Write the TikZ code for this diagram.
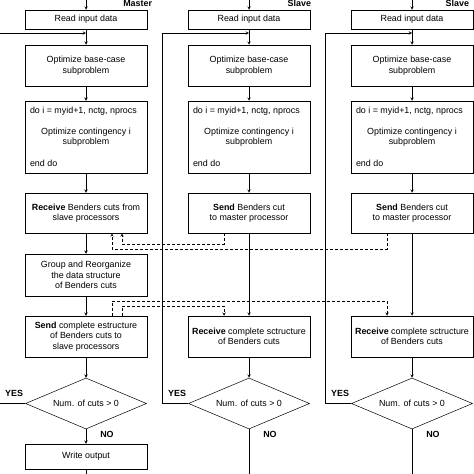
\documentclass[tikz,border=0pt]{standalone}
\usepackage{fontspec}
\setmainfont{Liberation Sans}
\usetikzlibrary{shapes.geometric,arrows}
\newcommand{\boxfont}{\fontsize{8.9}{10.4}\selectfont}

\begin{document}
\begin{tikzpicture}[x=1pt,y=-1pt,>=stealth,line width=0.5pt,
  box/.style={draw,text centered,align=center,minimum width=122pt,inner sep=2pt,font=\boxfont},
  test/.style={draw,diamond,aspect=2.4,minimum width=121pt,minimum height=51pt,inner sep=0pt,font=\boxfont},
  lbl/.style={font=\boxfont\bfseries,inner sep=0pt},
  txt/.style={font=\boxfont,inner sep=0pt},
  ret/.style={dash pattern=on 3pt off 2pt,->}]
\useasboundingbox (0,0) rectangle (474,474);

    % master
    \node[box,minimum height=19pt] (m1) at (86,19.5) {Read input data};
    \node[box,minimum height=41pt] (m2) at (86,65.5) {Optimize base-case\\subproblem};
    \node[box,minimum height=72pt] (m3) at (86,137) {};
    \node[box,minimum height=40pt] (m4) at (86,213) {\textbf{Receive} Benders cuts from\\slave processors};
    \node[box,minimum height=42pt] (m5) at (86,275) {Group and Reorganize\\the data structure\\of Benders cuts};
    \node[box,minimum height=41pt] (m6) at (86,336.5) {\textbf{Send} complete estructure\\of Benders cuts to\\slave processors};
    \node[test] (m7) at (86,403.5) {Num. of cuts > 0};
    \node[box,minimum height=25pt] (m8) at (86,456.5) {Write output};
    \node[txt,anchor=west] (m3a) at ([xshift=5pt,yshift=-10pt]m3.north west) {do i = myid+1, nctg, nprocs};
    \node[txt,align=center] (m3b) at (m3) {Optimize contingency i\\subproblem};
    \node[txt,anchor=west] (m3c) at ([xshift=5pt,yshift=10pt]m3.south west) {end do};
    \node[lbl,anchor=east] (mt) at ([xshift=5pt,yshift=6pt]m1.north east) {Master};
    \node[lbl,anchor=east] (my) at ([xshift=-2pt,yshift=10pt]m7.west) {YES};
    \node[lbl,anchor=west] (mn) at ([xshift=14pt,yshift=-5pt]m7.south) {NO};
    \coordinate (m0) at (86,-4);
    \coordinate (mj) at (86,33);
    \coordinate (m9) at (86,480);

    % first slave
    \node[box,minimum height=19pt] (s1) at (249,19.5) {Read input data};
    \node[box,minimum height=41pt] (s2) at (249,65.5) {Optimize base-case\\subproblem};
    \node[box,minimum height=72pt] (s3) at (249,137) {};
    \node[box,minimum height=40pt] (s4) at (249,213) {\textbf{Send} Benders cut\\to master processor};
    \node[box,minimum height=41pt] (s5) at (249,336.5) {\textbf{Receive} complete sctructure\\of Benders cuts};
    \node[test] (s6) at (249,403.5) {Num. of cuts > 0};
    \node[txt,anchor=west] (s3a) at ([xshift=5pt,yshift=-10pt]s3.north west) {do i = myid+1, nctg, nprocs};
    \node[txt,align=center] (s3b) at (s3) {Optimize contingency i\\subproblem};
    \node[txt,anchor=west] (s3c) at ([xshift=5pt,yshift=10pt]s3.south west) {end do};
    \node[lbl,anchor=east] (st) at ([xshift=1pt,yshift=6pt]s1.north east) {Slave};
    \node[lbl,anchor=east] (sy) at ([xshift=-2pt,yshift=10pt]s6.west) {YES};
    \node[lbl,anchor=west] (sn) at ([xshift=14pt,yshift=-5pt]s6.south) {NO};
    \coordinate (s0) at (249,-4);
    \coordinate (sj) at (249,33);
    \coordinate (s7) at (249,480);

    % second slave
    \node[box,minimum height=19pt] (t1) at (412,19.5) {Read input data};
    \node[box,minimum height=41pt] (t2) at (412,65.5) {Optimize base-case\\subproblem};
    \node[box,minimum height=72pt] (t3) at (412,137) {};
    \node[box,minimum height=40pt] (t4) at (412,213) {\textbf{Send} Benders cut\\to master processor};
    \node[box,minimum height=41pt] (t5) at (412,336.5) {\textbf{Receive} complete sctructure\\of Benders cuts};
    \node[test] (t6) at (412,403.5) {Num. of cuts > 0};
    \node[txt,anchor=west] (t3a) at ([xshift=5pt,yshift=-10pt]t3.north west) {do i = myid+1, nctg, nprocs};
    \node[txt,align=center] (t3b) at (t3) {Optimize contingency i\\subproblem};
    \node[txt,anchor=west] (t3c) at ([xshift=5pt,yshift=10pt]t3.south west) {end do};
    \node[lbl,anchor=east] (tt) at ([xshift=-4pt,yshift=6pt]t1.north east) {Slave};
    \node[lbl,anchor=east] (ty) at ([xshift=-2pt,yshift=10pt]t6.west) {YES};
    \node[lbl,anchor=west] (tn) at ([xshift=14pt,yshift=-5pt]t6.south) {NO};
    \coordinate (t0) at (412,-4);
    \coordinate (tj) at (412,33);
    \coordinate (t7) at (412,480);

\draw[->] (m0) -- (m1);
\draw[->] (m1) -- (m2);
\draw[->] (m2) -- (m3);
\draw[->] (m3) -- (m4);
\draw[->] (m4) -- (m5);
\draw[->] (m5) -- (m6);
\draw[->] (m6) -- (m7);
\draw[->] (m7) -- (m8);
\draw (m8) -- (m9);
\draw[->] (m7.west) -- ++(-34,0) |- (mj);

\draw[->] (s0) -- (s1);
\draw[->] (s1) -- (s2);
\draw[->] (s2) -- (s3);
\draw[->] (s3) -- (s4);
\draw[->] (s4) -- (s5);
\draw[->] (s5) -- (s6);
\draw (s6) -- (s7);
\draw[->] (s6.west) -- ++(-26,0) |- (sj);

\draw[->] (t0) -- (t1);
\draw[->] (t1) -- (t2);
\draw[->] (t2) -- (t3);
\draw[->] (t3) -- (t4);
\draw[->] (t4) -- (t5);
\draw[->] (t5) -- (t6);
\draw (t6) -- (t7);
\draw[->] (t6.west) -- ++(-26,0) |- (tj);

% cuts exchanged between processors
\draw[ret] ([xshift=-25pt]s4.south) -- ++(0,11) -| ([xshift=36pt]m4.south);
\draw[ret] ([xshift=-25pt]t4.south) -- ++(0,16) -| ([xshift=26pt]m4.south);
\draw[ret] ([xshift=26pt]m6.north) -- ++(0,-15) -| ([xshift=-25pt]t5.north);
\draw[ret] ([xshift=36pt]m6.north) -- ++(0,-10) -| ([xshift=-25pt]s5.north);
\end{tikzpicture}
\end{document}
